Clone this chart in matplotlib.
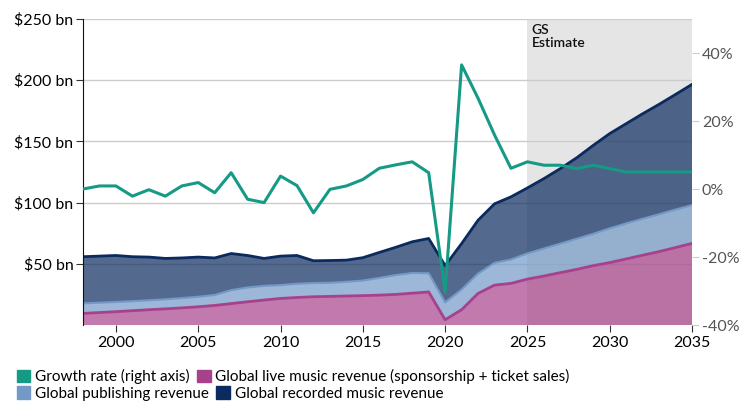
import numpy as np
import matplotlib
matplotlib.use("Agg")
import matplotlib.pyplot as plt
from matplotlib.patches import Patch

plt.rcParams['font.family'] = ['Lato', 'DejaVu Sans']

# Data ($ bn, stacked boundaries) and growth in %
years = np.arange(1998, 2036)
live_top = [9.5, 10.2, 10.9, 11.7, 12.5, 13.2, 14.0, 14.9, 16.0, 17.5,
            19.0, 20.4, 21.7, 22.5, 23.1, 23.4, 23.7, 24.0, 24.4, 25.0,
            26.0, 27.0, 4.3, 12.5, 25.8, 32.6, 34.0, 37.5, 40.0, 42.8,
            45.5, 48.5, 51.0, 54.0, 57.0, 60.0, 63.3, 66.7]
publishing_top = [17.7, 18.2, 18.8, 19.5, 20.2, 21.0, 22.0, 23.1, 24.5, 28.5,
                  30.7, 32.0, 32.6, 33.7, 34.3, 34.5, 35.3, 36.3, 38.5, 40.8,
                  42.5, 42.3, 18.5, 29.0, 42.0, 50.8, 53.5, 58.5, 62.5, 66.5,
                  70.5, 74.5, 79.0, 83.0, 86.8, 90.5, 94.3, 98.0]
total = [55.8, 56.3, 56.8, 55.8, 55.5, 54.4, 54.8, 55.5, 54.8, 58.4,
         56.8, 54.4, 56.3, 56.8, 52.5, 52.7, 53.0, 55.0, 59.3, 63.5,
         68.0, 70.7, 48.5, 66.5, 85.6, 99.0, 104.7, 112.0, 119.6, 127.8,
         136.7, 146.8, 156.4, 164.5, 172.6, 180.3, 188.4, 196.6]
growth = [0.0, 0.9, 0.9, -2.1, -0.2, -2.1, 0.9, 1.9, -1.1, 4.8,
          -3.0, -4.0, 3.8, 1.0, -7.0, -0.1, 0.9, 2.8, 6.1, 7.1,
          8.0, 4.8, -30.2, 36.5, 26.7, 15.9, 6.1, 8.0, 7.0, 7.0,
          6.0, 7.0, 6.0, 5.0, 5.0, 5.0, 5.0, 5.0]

live = np.array(live_top)
publishing = np.array(publishing_top) - live
recorded = np.array(total) - np.array(publishing_top)

left_ticks = [50, 100, 150, 200, 250]
right_ticks = [-40, -20, 0, 20, 40]
x_ticks = [2000, 2005, 2010, 2015, 2020, 2025, 2030, 2035]

TEAL = "#159a85"
PINK = "#a8418b"
LIGHTBLUE = "#7399c7"
NAVY = "#0b2a5e"

fig = plt.figure(figsize=(7.5, 4.08), dpi=100)
ax = fig.add_axes([0.1107, 0.2034, 0.812, 0.75])

# estimate shading
ax.axvspan(2025, 2035, color="#e5e5e5", zorder=0, lw=0)
for t in left_ticks:
    ax.axhline(t, color="#cccccc", lw=1, zorder=0.5)

ax.stackplot(years, live, publishing, recorded,
             colors=[PINK, LIGHTBLUE, NAVY], alpha=0.7, zorder=1, lw=0)
ax.plot(years, live_top, color=PINK, lw=2, zorder=2)
ax.plot(years, publishing_top, color=LIGHTBLUE, lw=1.5, zorder=2)
ax.plot(years, total, color=NAVY, lw=2, zorder=2)

ax.text(2025.25, 246, "GS\nEstimate", fontsize=10, fontweight="semibold",
        va="top", ha="left", linespacing=1.15, color="#111111")

ax.set_xlim(1998, 2035)
ax.set_ylim(0, 250)
ax.set_yticks(left_ticks)
ax.set_yticklabels([f"${t} bn" for t in left_ticks], fontsize=11.5)
ax.set_xticks(x_ticks)
ax.set_xticklabels([str(x) for x in x_ticks], fontsize=11.5)
ax.tick_params(axis="y", length=5, color="#333333", pad=2)
ax.tick_params(axis="x", length=5, color="#333333", pad=3)
for s in ["top", "right", "bottom"]:
    ax.spines[s].set_visible(False)
ax.spines["left"].set_color("#111111")

ax2 = ax.twinx()
ax2.plot(years, growth, color=TEAL, lw=2.2, zorder=3)
ax2.set_ylim(-40, 50)
ax2.set_yticks(right_ticks)
ax2.set_yticklabels([f"{t}%" for t in right_ticks], fontsize=11.5, color="#555555")
ax2.tick_params(axis="y", length=5, color="#cccccc", pad=2)
for s in ["top", "left", "bottom", "right"]:
    ax2.spines[s].set_visible(False)

leg_kw = dict(frameon=False, ncol=2, fontsize=11, handlelength=0.9,
              handleheight=0.9, handletextpad=0.3, columnspacing=0.5,
              borderaxespad=0, borderpad=0, loc="upper left")
leg1 = fig.legend(handles=[Patch(color=TEAL, label="Growth rate (right axis)"),
                           Patch(color=PINK, label="Global live music revenue (sponsorship + ticket sales)")],
                  bbox_to_anchor=(0.022, 0.095), **leg_kw)
leg2 = fig.legend(handles=[Patch(color=LIGHTBLUE, label="Global publishing revenue"),
                           Patch(color=NAVY, label="Global recorded music revenue")],
                  bbox_to_anchor=(0.022, 0.053), **leg_kw)

fig.savefig("out.png", dpi=100)
